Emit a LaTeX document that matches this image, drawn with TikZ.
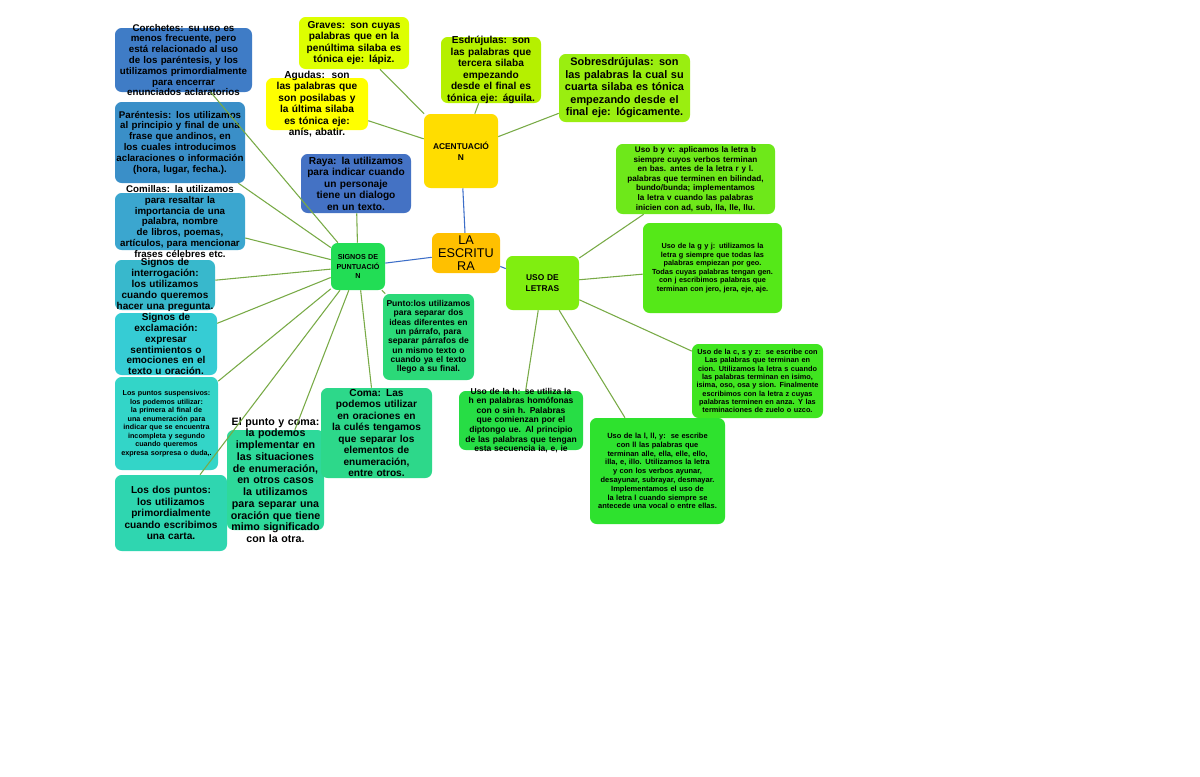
\documentclass[tikz,border=0pt]{standalone}
\usepackage{fontspec}
\setmainfont{Liberation Sans}
\newcommand{\nohyph}{\hyphenpenalty 10000\relax\exhyphenpenalty 10000\relax}
\begin{document}
\begin{tikzpicture}[x=0.75pt,y=-0.75pt]
\tikzset{box/.style={draw=none,rounded corners=5pt,inner sep=0pt},
 txt/.style={align=center,inner sep=0pt},
 gl/.style={line width=0.8pt, color={rgb,255:red,120;green,170;blue,70}},
 bl/.style={line width=0.8pt, color={rgb,255:red,60;green,110;blue,200}}}
\newcommand{\bx}[9]{%
 \pgfmathsetlengthmacro\bw{(#4-#2)*0.75pt}%
 \pgfmathsetlengthmacro\bh{(#5-#3)*0.75pt}%
 \pgfmathsetlengthmacro\tw{#7*0.75pt}%
 \node[box,fill={rgb,255:#6},minimum width=\bw,minimum height=\bh] (#1) at ({(#2+#4)/2},{(#3+#5)/2}) {};
 \node[txt,text width=\tw,font=\bfseries\nohyph#8] (#1t) at (#1) {#9};}
\useasboundingbox (0,0) rectangle (1200,776);
\fill[white] (0,0) rectangle (1200,776);
% hubs
\bx{esc}{432}{233}{500}{273}{red,255;green,192;blue,0}{66}{\fontsize{9.5}{10}\selectfont\mdseries}{LA\\ESCRITU\\RA}
\bx{acc}{424}{114}{498}{188}{red,255;green,221;blue,0}{72}{\fontsize{6.3}{8}\selectfont}{ACENTUACIÓ\\N}
\bx{sig}{331}{243}{385}{290}{red,34;green,221;blue,85}{54}{\fontsize{5.4}{7}\selectfont}{SIGNOS DE\\PUNTUACIÓ\\N}
\bx{uso}{506}{256}{579}{310}{red,128;green,238;blue,16}{70}{\fontsize{6.3}{8}\selectfont}{USO DE\\LETRAS}
% acentuacion children
\bx{gra}{299}{17}{409}{69}{red,221;green,255;blue,0}{100}{\fontsize{7.6}{8.6}\selectfont}{Graves: son cuyas palabras que en la penúltima silaba es tónica eje: lápiz.}
\bx{agu}{266}{78}{368}{130}{red,255;green,255;blue,0}{96}{\fontsize{7.6}{8.6}\selectfont}{Agudas:\ \ son las palabras que son posilabas y la última silaba es tónica eje: anís, abatir.}
\bx{esd}{441}{37}{541}{103}{red,181;green,240;blue,0}{96}{\fontsize{7.6}{8.6}\selectfont}{Esdrújulas: son las palabras que tercera silaba empezando desde el final es tónica eje: águila.}
\bx{sob}{559}{54}{690}{122}{red,154;green,238;blue,16}{124}{\fontsize{8.2}{9.4}\selectfont}{Sobresdrújulas: son las palabras la cual su cuarta silaba es tónica empezando desde el final eje: lógicamente.}
% signos children
\bx{cor}{115}{28}{252}{92}{red,63;green,124;blue,198}{134}{\fontsize{7.3}{8.1}\selectfont}{Corchetes: su uso es menos frecuente, pero está relacionado al uso de los paréntesis, y los utilizamos primordialmente para encerrar enunciados aclaratorios}
\bx{par}{115}{102}{245}{183}{red,58;green,143;blue,200}{128}{\fontsize{7.3}{8.1}\selectfont}{Paréntesis: los utilizamos al principio y final de una frase que andinos, en los cuales introducimos aclaraciones o información (hora, lugar, fecha.).}
\bx{com}{115}{193}{245}{250}{red,59;green,166;blue,207}{128}{\fontsize{7.3}{8.1}\selectfont}{Comillas: la utilizamos para resaltar la importancia de una palabra, nombre de libros, poemas, artículos, para mencionar frases célebres etc.}
\bx{int}{115}{260}{215}{310}{red,56;green,184;blue,204}{98}{\fontsize{7.5}{8.2}\selectfont}{Signos de interrogación: los utilizamos cuando queremos hacer una pregunta.}
\bx{exc}{115}{313}{217}{375}{red,54;green,204;blue,212}{98}{\fontsize{7.5}{8.2}\selectfont}{Signos de exclamación: expresar sentimientos o emociones en el texto u oración.}
\bx{sus}{115}{377}{218}{470}{red,51;green,213;blue,200}{100}{\fontsize{5.4}{6.4}\selectfont}{Los puntos suspensivos: los podemos utilizar: la primera al final de una enumeración para indicar que se encuentra incompleta y segundo cuando queremos expresa sorpresa o duda,.}
\bx{dos}{115}{475}{227}{551}{red,47;green,214;blue,176}{106}{\fontsize{7.6}{8.6}\selectfont}{Los dos puntos: los utilizamos primordialmente cuando escribimos una carta.}
\bx{pyc}{227}{430}{324}{530}{red,46;green,217;blue,154}{96}{\fontsize{8}{8.8}\selectfont}{El punto y coma: la podemos implementar en las situaciones de enumeración, en otros casos la utilizamos para separar una oración que tiene mimo significado con la otra.}
\bx{coma}{321}{388}{432}{478}{red,45;green,216;blue,138}{104}{\fontsize{7.6}{8.6}\selectfont}{Coma: Las podemos utilizar en oraciones en la culés tengamos que separar los elementos de enumeración, entre otros.}
\bx{pun}{383}{294}{474}{380}{red,43;green,217;blue,120}{88}{\fontsize{6.4}{7}\selectfont}{Punto:los utilizamos para separar dos ideas diferentes en un párrafo, para separar párrafos de un mismo texto o cuando ya el texto llego a su final.}
\bx{ray}{301}{154}{411}{213}{red,68;green,114;blue,196}{102}{\fontsize{7.6}{8.6}\selectfont}{Raya: la utilizamos para indicar cuando un personaje tiene un dialogo en un texto.}
% uso children
\bx{byv}{616}{144}{775}{214}{red,110;green,232;blue,26}{154}{\fontsize{6.1}{7.2}\selectfont}{Uso b y v: aplicamos la letra b siempre cuyos verbos terminan en bas. antes de la letra r y l. palabras que terminen en bilindad, bundo/bunda; implementamos la letra v cuando las palabras inicien con ad, sub, lla, lle, llu.}
\bx{gyj}{643}{223}{782}{313}{red,85;green,232;blue,24}{126}{\fontsize{5.5}{6.4}\selectfont}{Uso de la g y j: utilizamos la letra g siempre que todas las palabras empiezan por geo. Todas cuyas palabras tengan gen. con j escribimos palabras que terminan con jero, jera, eje, aje.}
\bx{csz}{692}{344}{823}{418}{red,64;green,229;blue,32}{126}{\fontsize{5.5}{6.2}\selectfont}{Uso de la c, s y z:\ \ se escribe con\ \ Las palabras que terminan en cion. Utilizamos la letra s cuando las palabras terminan en isimo, isima, oso, osa y sion. Finalmente escribimos con la letra z cuyas palabras terminen en anza. Y las terminaciones de zuelo o uzco.}
\bx{lly}{590}{418}{725}{524}{red,46;green,226;blue,46}{126}{\fontsize{5.6}{6.6}\selectfont}{Uso de la l, ll, y:\ \ se escribe con ll las palabras que terminan alle, ella, elle, ello, illa, e, illo. Utilizamos la letra y con los verbos ayunar, desayunar, subrayar, desmayar. Implementamos el uso de la letra l cuando siempre se antecede una vocal o entre ellas.}
\bx{hh}{459}{391}{583}{450}{red,39;green,221;blue,69}{122}{\fontsize{6.4}{7.2}\selectfont}{Uso de la h: se utiliza la h en palabras homófonas con o sin h. Palabras que comienzan por el diptongo ue. Al principio de las palabras que tengan esta secuencia ia, e, ie}
% connectors
\draw[bl] (esc) -- (acc);
\draw[bl] (esc) -- (sig);
\draw[bl] (esc) -- (uso);
\foreach \n in {gra,agu,esd,sob} \draw[gl] (acc) -- (\n);
\foreach \n in {cor,par,com,int,exc,sus,dos,pyc,coma,pun,ray} \draw[gl] (sig) -- (\n);
\foreach \n in {byv,gyj,csz,lly,hh} \draw[gl] (uso) -- (\n);
\end{tikzpicture}
\end{document}
